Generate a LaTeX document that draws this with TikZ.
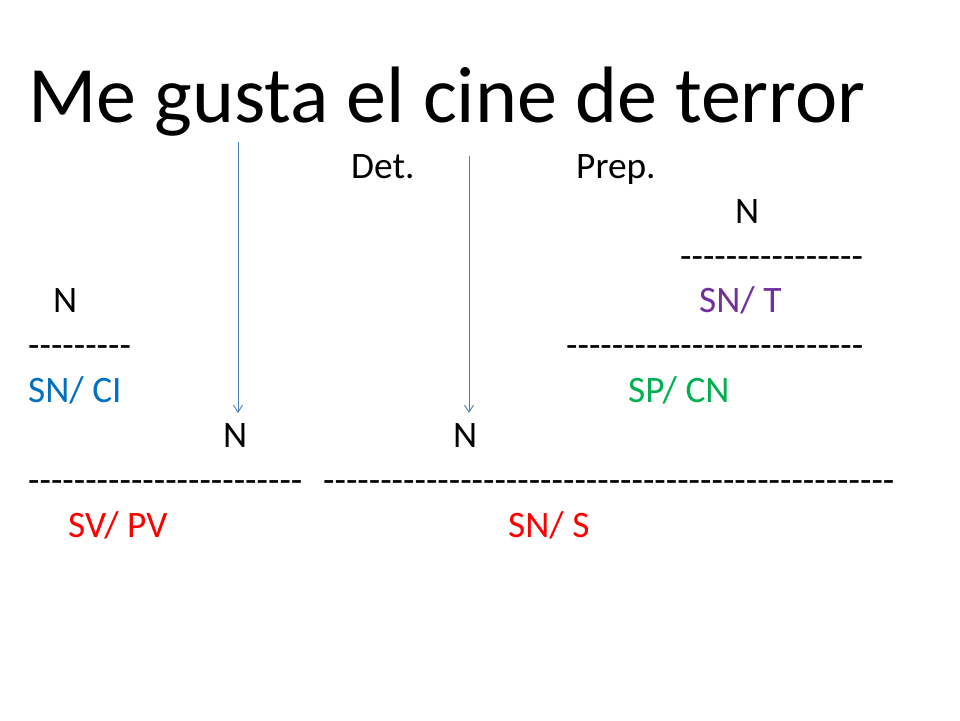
\documentclass[tikz,border=0pt]{standalone}
\usepackage{fontspec}
\setmainfont{Carlito}
\usetikzlibrary{arrows.meta}
\definecolor{arrowblue}{HTML}{4A7EBB}
\definecolor{ciblue}{HTML}{0070C0}
\definecolor{tpurple}{HTML}{7030A0}
\definecolor{cngreen}{HTML}{00B050}
\definecolor{pvred}{HTML}{FF0000}
\newcount\mydashcount
\newcommand\dashrow[1]{\mydashcount=0 \loop\hbox{-}\advance\mydashcount by 1 \ifnum\mydashcount<#1\repeat}
\tikzset{
  lbl/.style={anchor=base west, inner sep=0pt, font=\fontsize{37.33}{45}\selectfont},
  ttl/.style={anchor=base west, inner sep=0pt, font=\fontsize{80}{96}\selectfont},
  darrow/.style={draw=arrowblue, line width=0.9pt, -{Straight Barb[length=7pt,width=9pt]}}
}
\begin{document}
\begin{tikzpicture}[x=1pt,y=-1pt]
\useasboundingbox (0,0) rectangle (960,720);
\node[ttl] (title) at (28,122) {Me gusta el cine de terror};
\node[lbl] (det) at (351,178) {Det.};
\node[lbl] (prep) at (576,178) {Prep.};
\node[lbl] (nT) at (735,223) {N};
\node[lbl] (dT) at (680,268) {\dashrow{16}};
\node[lbl] (nCI) at (53,312) {N};
\node[lbl, text=tpurple] (snt) at (699,312) {SN/ T};
\node[lbl] (dCI) at (28,357) {\dashrow{9}};
\node[lbl] (dCN) at (566,357) {\dashrow{26}};
\node[lbl, text=ciblue] (snci) at (28,402) {SN/ CI};
\node[lbl, text=cngreen] (spcn) at (628,402) {SP/ CN};
\node[lbl] (nPV) at (223,447) {N};
\node[lbl] (nS) at (453,447) {N};
\node[lbl] (dPV) at (28,492) {\dashrow{24}};
\node[lbl] (dS) at (323,492) {\dashrow{50}};
\node[lbl, text=pvred] (svpv) at (68,537) {SV/ PV};
\node[lbl, text=pvred] (sns) at (508,537) {SN/ S};
\coordinate (a1s) at (238,142);
\coordinate (a1e) at (238,413);
\coordinate (a2s) at (469,156);
\coordinate (a2e) at (469,413);
\draw[darrow] (a1s) -- (a1e);
\draw[darrow] (a2s) -- (a2e);
\end{tikzpicture}
\end{document}
